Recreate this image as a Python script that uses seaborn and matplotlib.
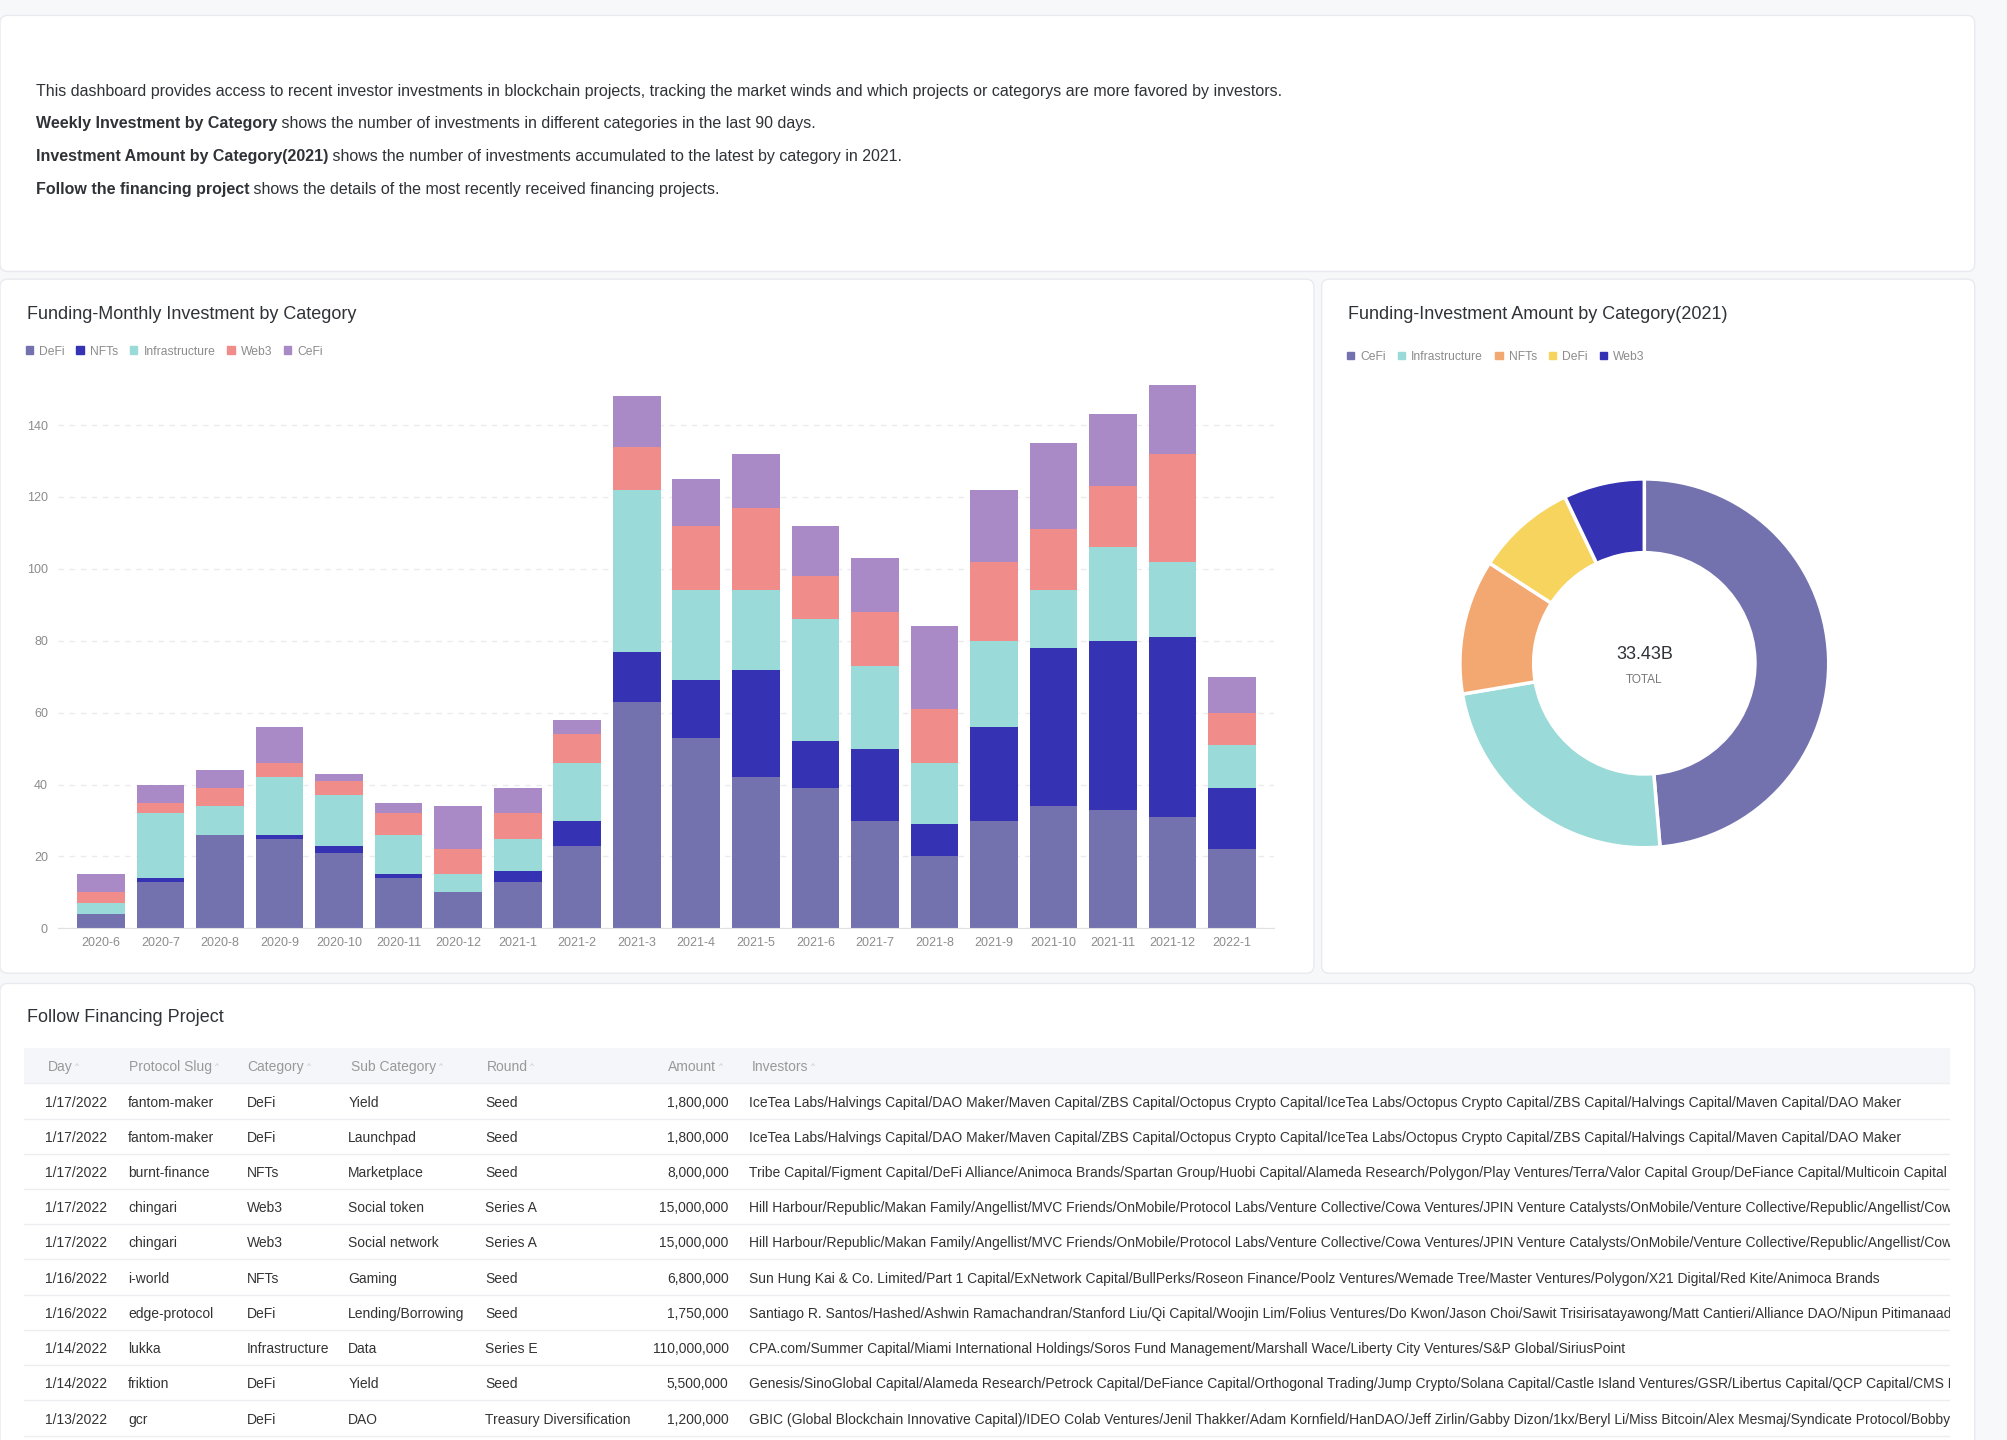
import matplotlib.pyplot as plt
import pandas as pd
import seaborn as sns
from matplotlib.patches import FancyBboxPatch, Patch, Rectangle

sns.set_style("white")
plt.rcParams['font.family'] = ['Liberation Sans', 'DejaVu Sans']

# ---- data ----
months = ['2020-6', '2020-7', '2020-8', '2020-9', '2020-10', '2020-11', '2020-12',
          '2021-1', '2021-2', '2021-3', '2021-4', '2021-5', '2021-6', '2021-7',
          '2021-8', '2021-9', '2021-10', '2021-11', '2021-12', '2022-1']
defi = [4, 13, 26, 25, 21, 14, 10, 13, 23, 63, 53, 42, 39, 30, 20, 30, 34, 33, 31, 22]
nfts = [0, 1, 0, 1, 2, 1, 0, 3, 7, 14, 16, 30, 13, 20, 9, 26, 44, 47, 50, 17]
infra = [3, 18, 8, 16, 14, 11, 5, 9, 16, 45, 25, 22, 34, 23, 17, 24, 16, 26, 21, 12]
web3 = [3, 3, 5, 4, 4, 6, 7, 7, 8, 12, 18, 23, 12, 15, 15, 22, 17, 17, 30, 9]
cefi = [5, 5, 5, 10, 2, 3, 12, 7, 4, 14, 13, 15, 14, 15, 23, 20, 24, 20, 19, 10]

bar_cats = ['DeFi', 'NFTs', 'Infrastructure', 'Web3', 'CeFi']
bar_colors = ['#7372ae', '#3532b3', '#9adad8', '#f08c8a', '#a98ac6']

pie_cats = ['CeFi', 'Infrastructure', 'NFTs', 'DeFi', 'Web3']
pie_vals = [16.26, 7.92, 3.95, 2.93, 2.37]  # billions
pie_colors = ['#7372ae', '#9adad8', '#f2a870', '#f7d45e', '#3532b3']
pie_total = '33.43B'

intro = "This dashboard provides access to recent investor investments in blockchain projects, tracking the market winds and which projects or categorys are more favored by investors."
notes = [("Weekly Investment by Category", " shows the number of investments in different categories in the last 90 days."),
         ("Investment Amount by Category(2021)", " shows the number of investments accumulated to the latest by category in 2021."),
         ("Follow the financing project", " shows the details of the most recently received financing projects.")]

tbl_cols = ['Day', 'Protocol Slug', 'Category', 'Sub Category', 'Round', 'Amount', 'Investors']
days = ['1/17/2022', '1/17/2022', '1/17/2022', '1/17/2022', '1/17/2022',
        '1/16/2022', '1/16/2022', '1/14/2022', '1/14/2022', '1/13/2022']
slugs = ['fantom-maker', 'fantom-maker', 'burnt-finance', 'chingari', 'chingari',
         'i-world', 'edge-protocol', 'lukka', 'friktion', 'gcr']
cats = ['DeFi', 'DeFi', 'NFTs', 'Web3', 'Web3', 'NFTs', 'DeFi', 'Infrastructure', 'DeFi', 'DeFi']
subcats = ['Yield', 'Launchpad', 'Marketplace', 'Social token', 'Social network', 'Gaming',
           'Lending/Borrowing', 'Data', 'Yield', 'DAO']
rounds = ['Seed', 'Seed', 'Seed', 'Series A', 'Series A', 'Seed', 'Seed', 'Series E', 'Seed',
          'Treasury Diversification']
amounts = [1800000, 1800000, 8000000, 15000000, 15000000, 6800000, 1750000, 110000000, 5500000, 1200000]
inv_fantom = "IceTea Labs/Halvings Capital/DAO Maker/Maven Capital/ZBS Capital/Octopus Crypto Capital/IceTea Labs/Octopus Crypto Capital/ZBS Capital/Halvings Capital/Maven Capital/DAO Maker"
inv_chingari = "Hill Harbour/Republic/Makan Family/Angellist/MVC Friends/OnMobile/Protocol Labs/Venture Collective/Cowa Ventures/JPIN Venture Catalysts/OnMobile/Venture Collective/Republic/Angellist/Cowa Ventures"
investors = [inv_fantom, inv_fantom,
             "Tribe Capital/Figment Capital/DeFi Alliance/Animoca Brands/Spartan Group/Huobi Capital/Alameda Research/Polygon/Play Ventures/Terra/Valor Capital Group/DeFiance Capital/Multicoin Capital",
             inv_chingari, inv_chingari,
             "Sun Hung Kai & Co. Limited/Part 1 Capital/ExNetwork Capital/BullPerks/Roseon Finance/Poolz Ventures/Wemade Tree/Master Ventures/Polygon/X21 Digital/Red Kite/Animoca Brands",
             "Santiago R. Santos/Hashed/Ashwin Ramachandran/Stanford Liu/Qi Capital/Woojin Lim/Folius Ventures/Do Kwon/Jason Choi/Sawit Trisirisatayawong/Matt Cantieri/Alliance DAO/Nipun Pitimanaadul",
             "CPA.com/Summer Capital/Miami International Holdings/Soros Fund Management/Marshall Wace/Liberty City Ventures/S&P Global/SiriusPoint",
             "Genesis/SinoGlobal Capital/Alameda Research/Petrock Capital/DeFiance Capital/Orthogonal Trading/Jump Crypto/Solana Capital/Castle Island Ventures/GSR/Libertus Capital/QCP Capital/CMS Holdings",
             "GBIC (Global Blockchain Innovative Capital)/IDEO Colab Ventures/Jenil Thakker/Adam Kornfield/HanDAO/Jeff Zirlin/Gabby Dizon/1kx/Beryl Li/Miss Bitcoin/Alex Mesmaj/Syndicate Protocol/Bobby Ong"]

# ---- layout helpers (page units, 1568 x 1124.5) ----
W, H = 1568.0, 1124.5
def fx(x):
    return x / W
def fy(y):
    return 1 - y / H

DARK = '#2f3237'
GREY = '#8c8c8c'

fig = plt.figure(figsize=(20.08, 14.40), dpi=100, facecolor='#f7f8fa')
bg = fig.add_axes([0, 0, 1, 1], zorder=0)
bg.set_xlim(0, W)
bg.set_ylim(H, 0)
bg.axis('off')

for (x0, y0, x1, y1) in [(0, 12, 1542, 212), (0, 218, 1026, 760), (1032, 218, 1542, 760), (0, 768, 1542, 1140)]:
    bg.add_patch(FancyBboxPatch((x0, y0), x1 - x0, y1 - y0, boxstyle="round,pad=0,rounding_size=6",
                                fc='white', ec='#e8eaef', lw=1))

# ---- intro card ----
bg.text(28, 71.5, intro, fontsize=11.5, color=DARK, va='center')
for i, (b, r) in enumerate(notes):
    t = bg.text(28, 96.5 + i * 25.8, b, fontsize=11.5, color=DARK, va='center', fontweight='bold')
    bg.annotate(r, xy=(1, 0), xycoords=t, fontsize=11.5, color=DARK, va='bottom')

# ---- stacked bar chart ----
bg.text(21, 245.5, 'Funding-Monthly Investment by Category', fontsize=13, color=DARK, va='center')
ax = fig.add_axes([fx(45), fy(725), fx(995) - fx(45), fy(301) - fy(725)], zorder=2)
df = pd.DataFrame({'month': months, 'DeFi': defi, 'NFTs': nfts, 'Infrastructure': infra,
                   'Web3': web3, 'CeFi': cefi})
stack = df[bar_cats].cumsum(axis=1)
stack['month'] = months
for cat, col in reversed(list(zip(bar_cats, bar_colors))):
    sns.barplot(data=stack, x='month', y=cat, order=months, color=col, saturation=1,
                width=0.8, linewidth=0, ax=ax)
ax.set_xlim(-0.73, 19.71)
ax.set_ylim(0, 151)
ax.set_yticks(range(0, 141, 20))
ax.set_xlabel('')
ax.set_ylabel('')
ax.set_facecolor('none')
for s in ['left', 'top', 'right']:
    ax.spines[s].set_visible(False)
ax.spines['bottom'].set_color('#e0e0e0')
ax.yaxis.grid(True, linestyle=(0, (4, 4)), color='#ebebeb', lw=1)
ax.set_axisbelow(True)
ax.tick_params(axis='both', length=0, labelsize=9, colors=GREY)
ax.tick_params(axis='y', pad=7)
ax.tick_params(axis='x', pad=6)
handles = [Patch(color=c, label=l) for l, c in zip(bar_cats, bar_colors)]
ax.legend(handles=handles, loc='center left', bbox_to_anchor=(fx(20), fy(274.5)),
          bbox_transform=fig.transFigure, ncol=5, frameon=False, fontsize=8.7,
          handlelength=0.6, handleheight=0.6, handletextpad=0.5, columnspacing=1.0,
          borderpad=0, borderaxespad=0, labelcolor=GREY)

# ---- donut ----
bg.text(1053, 245.5, 'Funding-Investment Amount by Category(2021)', fontsize=13, color=DARK, va='center')
r = 150
ax2 = fig.add_axes([fx(1284 - r), fy(518 + r), 2 * r / W, 2 * r / H], zorder=2)
ax2.pie(pie_vals, colors=pie_colors, startangle=90, counterclock=False, radius=1,
        wedgeprops=dict(width=0.40, edgecolor='white', linewidth=2.5))
lim = r / 144
ax2.set_xlim(-lim, lim)
ax2.set_ylim(-lim, lim)
ax2.axis('off')
bg.text(1284, 511, pie_total, fontsize=13, color=DARK, ha='center', va='center', zorder=3)
bg.text(1284, 531, 'TOTAL', fontsize=8.5, color='#777777', ha='center', va='center', zorder=3)
handles2 = [Patch(color=c, label=l) for l, c in zip(pie_cats, pie_colors)]
ax2.legend(handles=handles2, loc='center left', bbox_to_anchor=(fx(1052), fy(278.5)),
           bbox_transform=fig.transFigure, ncol=5, frameon=False, fontsize=8.7,
           handlelength=0.6, handleheight=0.6, handletextpad=0.5, columnspacing=1.0,
           borderpad=0, borderaxespad=0, labelcolor=GREY)

# ---- table ----
bg.text(21, 794.5, 'Follow Financing Project', fontsize=13, color=DARK, va='center')
bg.add_patch(Rectangle((19, 818), 1523 - 19, 28, fc='#f5f6fa', ec='none'))
tab = fig.add_axes([fx(19), 0, fx(1523) - fx(19), fy(818)], zorder=2)
tab.set_xlim(19, 1523)
tab.set_ylim(H, 818)
tab.axis('off')
hdr_x = [37, 101, 193, 274, 380, 559, 587]
hdr_ha = ['left'] * 5 + ['right', 'left']
for name, x, ha in zip(tbl_cols, hdr_x, hdr_ha):
    t = tab.text(x, 833, name, fontsize=10, color='#999999', ha=ha, va='center')
    tab.annotate('^', xy=(1, 0.5), xycoords=t, xytext=(2, 0), textcoords='offset points',
                 fontsize=6, color='#c0c0c0', va='center')
col_x = [35, 100, 193, 272, 379, 569, 585]
for i in range(len(days)):
    y = 861 + i * 27.5
    vals = [days[i], slugs[i], cats[i], subcats[i], rounds[i], f'{amounts[i]:,}', investors[i]]
    for v, x, j in zip(vals, col_x, range(7)):
        tab.text(x, y, v, fontsize=10, color='#333333', va='center',
                 ha='right' if j == 5 else 'left', clip_on=True)
for k in range(11):
    tab.axhline(846 + k * 27.5, color='#eceef1', lw=1)

fig.savefig('out.png', dpi=100, facecolor=fig.get_facecolor())
